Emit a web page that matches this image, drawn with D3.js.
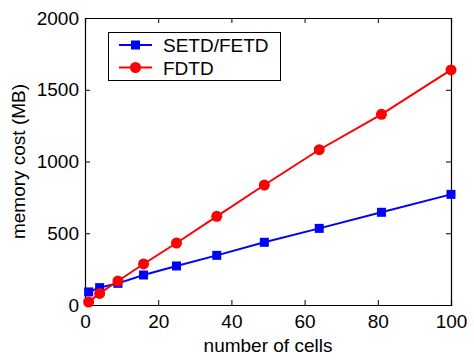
<!DOCTYPE html>
<html>
<head>
<meta charset="utf-8">
<script src="https://cdn.jsdelivr.net/npm/d3@7"></script>
<style>
  body { margin: 0; background: #fff; }
  text { font-family: "Liberation Sans", Arial, sans-serif; fill: #000; }
</style>
</head>
<body>
<div id="chart"></div>
<script>
// data
const cells = [1, 4, 9, 16, 25, 36, 49, 64, 81, 100];
const setdFetd = [91, 121, 151, 209, 272, 346, 437, 534, 646, 771];
const fdtd = [21, 81, 167, 286, 432, 618, 836, 1082, 1329, 1638];
const xTicks = [0, 20, 40, 60, 80, 100];
const yTicks = [0, 500, 1000, 1500, 2000];

const width = 474;
const height = 363;
const margin = { top: 18, right: 23, bottom: 58, left: 85 };

const svg = d3.select('#chart')
  .append('svg')
  .attr('width', width)
  .attr('height', height);

const x = d3.scaleLinear().domain([0, 100]).range([margin.left, width - margin.right]);
const y = d3.scaleLinear().domain([0, 2000]).range([height - margin.bottom, margin.top]);

const fontSize = 19;
const fmt = d3.format('d');

// axes with inward ticks, box style
svg.append('g')
  .attr('transform', `translate(0,${y(0)})`)
  .call(d3.axisBottom(x).tickValues(xTicks).tickFormat(fmt).tickSize(-5).tickPadding(10));
svg.append('g')
  .attr('transform', `translate(${x(0)},0)`)
  .call(d3.axisLeft(y).tickValues(yTicks).tickFormat(fmt).tickSize(-5).tickPadding(6));
svg.append('g')
  .attr('transform', `translate(0,${y(2000)})`)
  .call(d3.axisTop(x).tickValues(xTicks).tickSize(-5).tickFormat(''));
svg.append('g')
  .attr('transform', `translate(${x(100)},0)`)
  .call(d3.axisRight(y).tickValues(yTicks).tickSize(-5).tickFormat(''));

svg.selectAll('.domain').attr('stroke', '#000').attr('stroke-width', 1.2);
svg.selectAll('.tick line').attr('stroke', '#000');
svg.selectAll('.tick text')
  .style('font-size', `${fontSize}px`)
  .style('font-family', '"Liberation Sans", Arial, sans-serif')
  .attr('fill', '#000');

// axis labels
svg.append('text')
  .attr('x', (x(0) + x(100)) / 2)
  .attr('y', 352)
  .attr('text-anchor', 'middle')
  .style('font-size', `${fontSize}px`)
  .text('number of cells');
svg.append('text')
  .attr('transform', `translate(25,${(y(0) + y(2000)) / 2}) rotate(-90)`)
  .attr('text-anchor', 'middle')
  .style('font-size', `${fontSize}px`)
  .text('memory cost (MB)');

const line = d3.line()
  .x((d) => x(d[0]))
  .y((d) => y(d[1]));

const blueData = cells.map((c, i) => [c, setdFetd[i]]);
const redData = cells.map((c, i) => [c, fdtd[i]]);

svg.append('path')
  .datum(blueData)
  .attr('d', line)
  .attr('fill', 'none')
  .attr('stroke', '#0000ff')
  .attr('stroke-width', 2);
svg.selectAll('.sq')
  .data(blueData)
  .enter()
  .append('rect')
  .attr('x', (d) => x(d[0]) - 4.5)
  .attr('y', (d) => y(d[1]) - 4.5)
  .attr('width', 9)
  .attr('height', 9)
  .attr('fill', '#0000ff');

svg.append('path')
  .datum(redData)
  .attr('d', line)
  .attr('fill', 'none')
  .attr('stroke', '#ff0000')
  .attr('stroke-width', 2);
svg.selectAll('.dot')
  .data(redData)
  .enter()
  .append('circle')
  .attr('cx', (d) => x(d[0]))
  .attr('cy', (d) => y(d[1]))
  .attr('r', 5.5)
  .attr('fill', '#ff0000');

// legend
const legend = svg.append('g');
legend.append('rect')
  .attr('x', 108.5)
  .attr('y', 32.5)
  .attr('width', 172)
  .attr('height', 48)
  .attr('fill', '#fff')
  .attr('stroke', '#000')
  .attr('stroke-width', 1);

const entries = [
  { name: 'SETD/FETD', color: '#0000ff', shape: 'square', cy: 45 },
  { name: 'FDTD', color: '#ff0000', shape: 'circle', cy: 67.5 },
];
entries.forEach((e) => {
  legend.append('line')
    .attr('x1', 119).attr('x2', 152)
    .attr('y1', e.cy).attr('y2', e.cy)
    .attr('stroke', e.color)
    .attr('stroke-width', 2);
  if (e.shape === 'square') {
    legend.append('rect')
      .attr('x', 135.5 - 4.5).attr('y', e.cy - 4.5)
      .attr('width', 9).attr('height', 9)
      .attr('fill', e.color);
  } else {
    legend.append('circle')
      .attr('cx', 135.5).attr('cy', e.cy).attr('r', 5.5)
      .attr('fill', e.color);
  }
  legend.append('text')
    .attr('x', 163)
    .attr('y', e.cy + 7)
    .style('font-size', `${fontSize}px`)
    .text(e.name);
});
</script>
</body>
</html>
